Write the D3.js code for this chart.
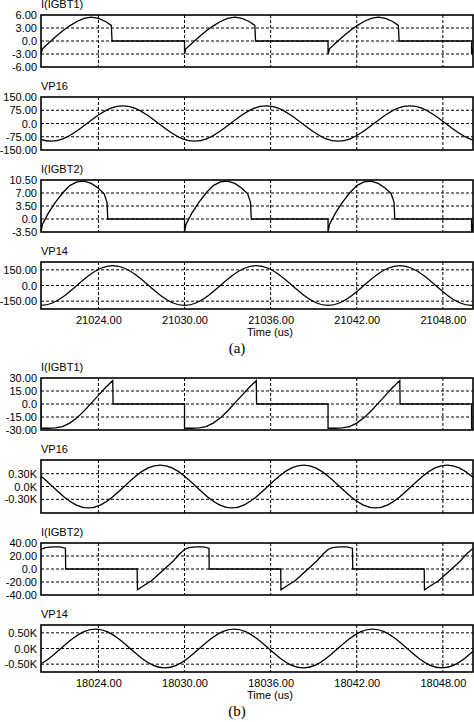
<!DOCTYPE html>
<html><head><meta charset="utf-8">
<script src="https://d3js.org/d3.v7.min.js"></script>
<style>body{margin:0;background:#fff}text{font-family:"Liberation Sans",Arial,sans-serif}</style>
</head><body>
<script>
// one period (10 us) of each switch current, [t offset, value]
var igbt1A = [[0,0],[0,-3],[0.1,-1.8],[0.5,-0.6],[1,0.9],[1.5,2.3],[2,3.5],[2.5,4.5],[3,5.2],[3.5,5.5],[4,5.2],[4.5,4.5],[4.9,3.6],[4.95,0],[10,0]];
var igbt2A = [[0,0],[0,-3.5],[0.1,-1.5],[0.5,1.5],[1,4.5],[1.5,7],[2,9],[2.5,10],[3,10.2],[3.5,9.6],[4,8.3],[4.4,6.8],[4.6,4.5],[4.65,0],[10,0]];
var igbt1B = [[0,0],[0,-28],[0.5,-28],[1,-27.5],[1.5,-26],[2,-22],[2.5,-16],[3,-8],[3.5,1],[4,10],[4.5,19],[5,27],[5.02,0],[10,0]];
var igbt2B = [[0,30],[0.3,33],[0.8,34],[1.3,34],[1.7,32],[1.72,0],[6.7,0],[6.72,-32],[7.2,-25],[7.7,-18],[8.2,-8],[8.7,2],[9.2,12],[9.6,22],[10,30]];
// one cycle of a sinusoid sampled at twelfths, starting at its peak
var cosShape = [1,0.87,0.5,0,-0.5,-0.87,-1,-0.87,-0.5,0,0.5,0.87,1];
var vp16A = {amp: 100, peak: 21025.7, period: 10};
var vp14A = {amp: 190, peak: 21025.0, period: 10};
var vp16B = {amp: 0.5, peak: 18028.3, period: 10};
var vp14B = {amp: 0.62, peak: 18023.8, period: 9.65};
var xTicksA = [21024, 21030, 21036, 21042, 21048];
var xTicksB = [18024, 18030, 18036, 18042, 18048];

var W = 474, H = 722, L = 41, R = 473;
var svg = d3.select("body").append("svg").attr("width", W).attr("height", H);

function tile(period, t0, t1, start) {
  var out = [];
  for (var k = 0; start + k * 10 < t1; k++)
    period.forEach(function (p) { out.push([start + k * 10 + p[0], p[1]]); });
  return out;
}
function sine(s, t0, t1) {
  var out = [], k0 = Math.floor((t0 - s.peak) / s.period) - 1;
  for (var k = k0; s.peak + k * s.period < t1 + s.period; k++)
    cosShape.forEach(function (c, i) {
      if (i < 12) out.push([s.peak + (k + i / 12) * s.period, c * s.amp]);
    });
  return out;
}

function panel(o) {
  var x = d3.scaleLinear().domain(o.xd).range([L, R]);
  var y = d3.scaleLinear().domain(o.yd).range([o.y1, o.y0]);
  var g = svg.append("g");
  g.append("text").attr("x", L).attr("y", o.y0 - 7).attr("font-size", 11).text(o.title);
  var id = "c" + o.y0;
  g.append("clipPath").attr("id", id).append("rect").attr("x", L).attr("y", o.y0).attr("width", R - L).attr("height", o.y1 - o.y0);
  o.yt.forEach(function (v, i) {
    if (v > o.yd[0] && v < o.yd[1])
      g.append("line").attr("x1", L).attr("x2", R).attr("y1", y(v)).attr("y2", y(v))
        .attr("stroke", "#000").attr("stroke-dasharray", "3,2");
    g.append("text").attr("x", L - 4).attr("y", y(v) + 4).attr("text-anchor", "end")
      .attr("font-size", 11).text(o.yl[i]);
  });
  o.xt.forEach(function (v) {
    g.append("line").attr("x1", x(v)).attr("x2", x(v)).attr("y1", o.y0).attr("y2", o.y1)
      .attr("stroke", "#000").attr("stroke-dasharray", "3,2");
  });
  g.append("path").datum(o.data).attr("clip-path", "url(#" + id + ")")
    .attr("fill", "none").attr("stroke", "#000").attr("stroke-width", 1.3)
    .attr("d", d3.line().x(function (d) { return x(d[0]); }).y(function (d) { return y(d[1]); })
      .curve(o.smooth ? d3.curveNatural : d3.curveLinear));
  g.append("rect").attr("x", L).attr("y", o.y0).attr("width", R - L).attr("height", o.y1 - o.y0)
    .attr("fill", "none").attr("stroke", "#000").attr("stroke-width", 1.6);
  if (o.axis) {
    var ax = g.append("g").attr("transform", "translate(0," + o.y1 + ")")
      .call(d3.axisBottom(x).tickValues(o.xt).tickSize(0).tickPadding(7).tickFormat(d3.format(".2f")));
    ax.select(".domain").remove();
    ax.selectAll("text").attr("font-size", 11).attr("font-family", "Liberation Sans, Arial");
  }
}

function group(xd, xt, c, tops, label, i1, i2, v16, v14) {
  panel({title: "I(IGBT1)", xd: xd, xt: xt, y0: tops[0], y1: tops[0] + 52, yd: c[0].d, yt: c[0].t, yl: c[0].l,
    data: tile(i1, xd[0], xd[1], xd[0])});
  panel({title: "VP16", xd: xd, xt: xt, y0: tops[1], y1: tops[1] + 53, yd: c[1].d, yt: c[1].t, yl: c[1].l,
    data: sine(v16, xd[0], xd[1]), smooth: true});
  panel({title: "I(IGBT2)", xd: xd, xt: xt, y0: tops[2], y1: tops[2] + 52, yd: c[2].d, yt: c[2].t, yl: c[2].l,
    data: tile(i2, xd[0], xd[1], xd[0])});
  panel({title: "VP14", xd: xd, xt: xt, y0: tops[3], y1: tops[3] + 47, yd: c[3].d, yt: c[3].t, yl: c[3].l,
    data: sine(v14, xd[0], xd[1]), smooth: true, axis: true});
  svg.append("text").attr("x", 270).attr("y", tops[3] + 74).attr("text-anchor", "middle").attr("font-size", 11).text("Time (us)");
  svg.append("text").attr("x", 237).attr("y", tops[3] + 91).attr("text-anchor", "middle")
    .style("font-family", "Liberation Serif, Times New Roman, serif").attr("font-size", 15).text(label);
}

group([21020, 21050.1], xTicksA, [
  {d: [-6, 6], t: [6, 3, 0, -3, -6], l: ["6.00", "3.00", "0.0", "-3.00", "-6.00"]},
  {d: [-150, 150], t: [150, 75, 0, -75, -150], l: ["150.00", "75.00", "0.0", "-75.00", "-150.00"]},
  {d: [-3.5, 10.5], t: [10.5, 7, 3.5, 0, -3.5], l: ["10.50", "7.00", "3.50", "0.0", "-3.50"]},
  {d: [-225, 225], t: [150, 0, -150], l: ["150.00", "0.0", "-150.00"]}
], [15, 97, 180, 262], "(a)", igbt1A, igbt2A, vp16A, vp14A);

group([18020, 18050.1], xTicksB, [
  {d: [-30, 30], t: [30, 15, 0, -15, -30], l: ["30.00", "15.00", "0.0", "-15.00", "-30.00"]},
  {d: [-0.62, 0.62], t: [0.3, 0, -0.3], l: ["0.30K", "0.0K", "-0.30K"]},
  {d: [-40, 40], t: [40, 20, 0, -20, -40], l: ["40.00", "20.00", "0.0", "-20.00", "-40.00"]},
  {d: [-0.75, 0.75], t: [0.5, 0, -0.5], l: ["0.50K", "0.0K", "-0.50K"]}
], [378, 460, 543, 625], "(b)", igbt1B, igbt2B, vp16B, vp14B);
</script>
</body></html>
